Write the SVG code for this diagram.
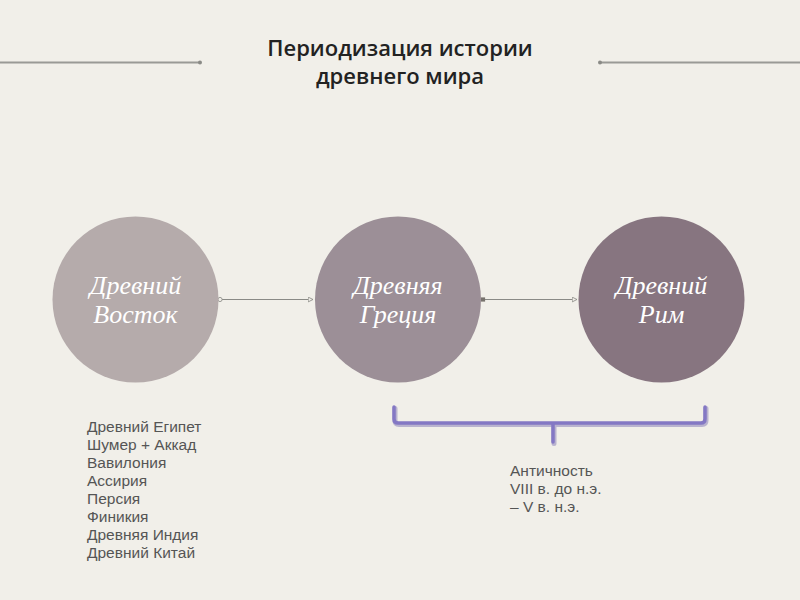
<svg xmlns="http://www.w3.org/2000/svg" width="800" height="600" viewBox="0 0 800 600">
<defs>
<style>
.title{font-family:"Open Sans","Liberation Sans",sans-serif;font-weight:600;font-size:22px;fill:#222222;text-anchor:middle}
.node{font-family:"Liberation Serif","DejaVu Serif",serif;font-style:italic;font-size:26px;fill:#ffffff;text-anchor:middle}
.list{font-family:"Liberation Sans",Arial,sans-serif;font-size:15.5px;fill:#555555}
.conn{stroke:#8a8a86;stroke-width:1.2;fill:none}
.rule{stroke:#9a9a96;stroke-width:2;fill:none}
</style>
<marker id="arrow" viewBox="0 0 10 10" refX="9" refY="5" markerWidth="6" markerHeight="6" orient="auto" markerUnits="userSpaceOnUse">
<path d="M1,1 L9,5 L1,9 Z" fill="#f1efe9" stroke="#8a8a86" stroke-width="1.4"/>
</marker>
<marker id="dot" viewBox="0 0 10 10" refX="5" refY="5" markerWidth="6" markerHeight="6" markerUnits="userSpaceOnUse">
<circle cx="5" cy="5" r="3.5" fill="#f1efe9" stroke="#8a8a86" stroke-width="1.4"/>
</marker>
<marker id="sq" viewBox="0 0 10 10" refX="5" refY="5" markerWidth="6" markerHeight="6" markerUnits="userSpaceOnUse">
<rect x="1.5" y="1.5" width="7" height="7" fill="#77736e"/>
</marker>
<marker id="enddot" viewBox="0 0 10 10" refX="5" refY="5" markerWidth="5" markerHeight="5" markerUnits="userSpaceOnUse">
<circle cx="5" cy="5" r="4" fill="#8a8a86"/>
</marker>
</defs>
<rect width="800" height="600" fill="#f1efe9"/>

<g id="title">
<line class="rule" x1="0" y1="62.5" x2="200" y2="62.5" marker-end="url(#enddot)"/>
<line class="rule" x1="800" y1="62.5" x2="600" y2="62.5" marker-end="url(#enddot)"/>
<text class="title" x="400" y="56">Периодизация истории</text>
<text class="title" x="400" y="84">древнего мира</text>
</g>

<g id="connectors">
<line class="conn" x1="220" y1="299.5" x2="313" y2="299.5" marker-start="url(#dot)" marker-end="url(#arrow)"/>
<line class="conn" x1="483" y1="299.5" x2="577" y2="299.5" marker-start="url(#sq)" marker-end="url(#arrow)"/>
</g>

<g id="node-east">
<circle cx="135.5" cy="299.5" r="83" fill="#b5abab"/>
<text class="node" x="135.5" y="294">Древний</text>
<text class="node" x="135.5" y="323">Восток</text>
</g>

<g id="node-greece">
<circle cx="398" cy="299.5" r="83" fill="#9c8f97"/>
<text class="node" x="398" y="294">Древняя</text>
<text class="node" x="398" y="323">Греция</text>
</g>

<g id="node-rome">
<circle cx="661.5" cy="299.5" r="83" fill="#877580"/>
<text class="node" x="661.5" y="294">Древний</text>
<text class="node" x="661.5" y="323">Рим</text>
</g>

<g id="east-list">
<text class="list" x="87" y="432">Древний Египет</text>
<text class="list" x="87" y="450">Шумер + Аккад</text>
<text class="list" x="87" y="468">Вавилония</text>
<text class="list" x="87" y="486">Ассирия</text>
<text class="list" x="87" y="504">Персия</text>
<text class="list" x="87" y="522">Финикия</text>
<text class="list" x="87" y="540">Древняя Индия</text>
<text class="list" x="87" y="558">Древний Китай</text>
</g>

<g id="antiquity-brace">
<path d="M394,407 L394,419 Q394,423 398,423 L701,423 Q705,423 705,419 L705,407 M553,423 L553,442" fill="none" stroke="#b9b3cf" stroke-width="5" stroke-linecap="round" stroke-linejoin="round" transform="translate(1,1.5)"/>
<path d="M394,407 L394,419 Q394,423 398,423 L701,423 Q705,423 705,419 L705,407 M553,423 L553,442" fill="none" stroke="#8478c4" stroke-width="3.5" stroke-linecap="round" stroke-linejoin="round"/>
</g>

<g id="antiquity-label">
<text class="list" x="510" y="476">Античность</text>
<text class="list" x="510" y="494">VIII в. до н.э.</text>
<text class="list" x="510" y="512">– V в. н.э.</text>
</g>
</svg>
